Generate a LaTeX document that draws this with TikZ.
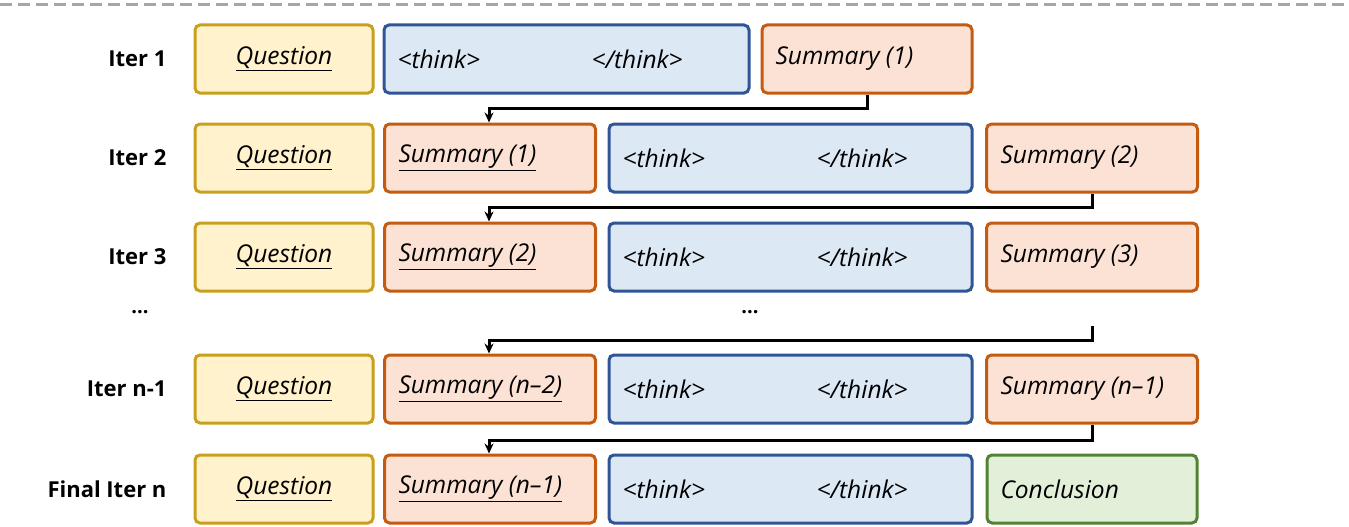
\documentclass[tikz,border=0pt]{standalone}
\usepackage{fontspec}
\setmainfont{Open Sans}
\usetikzlibrary{arrows.meta}
\definecolor{qf}{HTML}{FFF2CC}\definecolor{qd}{HTML}{C9A01E}
\definecolor{bf}{HTML}{DDE8F5}\definecolor{bd}{HTML}{2F5597}
\definecolor{of}{HTML}{FBE2D5}\definecolor{od}{HTML}{C55A11}
\definecolor{gf}{HTML}{E2EFD9}\definecolor{gd}{HTML}{548235}
\tikzset{
 box/.style={rounded corners=5pt,line width=3pt,minimum height=68pt,inner sep=0pt},
 q/.style={box,fill=qf,draw=qd,minimum width=178pt},
 th/.style={box,fill=bf,draw=bd,minimum width=363pt},
 sm/.style={box,fill=of,draw=od,minimum width=211pt},
 cn/.style={box,fill=gf,draw=gd,minimum width=210pt},
 t/.style={font=\fontsize{24.5}{26}\selectfont\itshape,anchor=west},
 lab/.style={font=\fontsize{22}{24}\selectfont\bfseries,anchor=east},
 arr/.style={line width=3pt,-{Stealth[length=10pt,width=9pt]}}
}
\newcommand{\ul}[1]{\underline{#1}}
\begin{document}
\begin{tikzpicture}[x=1pt,y=-1pt]
\useasboundingbox (0,0) rectangle (1349,527);
\draw[gray!70,line width=3pt,dash pattern=on 12pt off 6pt] (0,5)--(1349,5);
% row 1
\node[lab] (l1) at (170,59) {Iter 1};
\node[q] (q1) at (284,59) {};
\node[t,anchor=center] at (q1) {\ul{Question}};
\node[box,fill=bf,draw=bd,minimum width=365pt] (t1) at (566.5,59) {};
\node[t] at (394,59) {<think>};
\node[t] at (588,59) {</think>};
\node[sm,minimum width=210pt] (s1) at (867,59) {};
\node[t] at (772,59) {Summary (1)};
% rows
\foreach \y/\pa in {158/Summary (1), 257/Summary (2), 389/Summary (n–2), 489/Summary (n–1)}{
 \node[q] (q\y) at (284,\y) {};
 \node[t,anchor=center] at (q\y) {\ul{Question}};
 \node[sm] (a\y) at (490,\y) {};
 \node[t] at (395,\y) {\ul{\pa}};
 \node[th] (b\y) at (790.5,\y) {};
 \node[t] at (619,\y) {<think>};
 \node[t] at (813,\y) {</think>};
}
\node[lab] at (170,158) {Iter 2};
\node[lab] at (170,257) {Iter 3};
\node[lab] at (170,389) {Iter n-1};
\node[lab] at (170,489) {Final Iter n};
\node[sm] (c158) at (1092,158) {}; \node[t] at (997,158) {Summary (2)};
\node[sm] (c257) at (1092,257) {}; \node[t] at (997,257) {Summary (3)};
\node[sm] (c389) at (1092,389) {}; \node[t] at (997,389) {Summary (n–1)};
\node[cn] (c489) at (1092,489) {}; \node[t] at (997,489) {Conclusion};
\node[font=\fontsize{20}{22}\selectfont\bfseries] (d1) at (140,312) {...};
\node[font=\fontsize{20}{22}\selectfont\bfseries] (d2) at (750,312) {...};
\coordinate (e3) at (1092,326);
% arrows
\draw[arr] (s1.south) |- (489,108) -- (a158.north-|489,0);
\draw[arr] (c158.south) |- (489,207) -- (a257.north-|489,0);
\draw[arr] (e3) |- (489,340) -- (a389.north-|489,0);
\draw[arr] (c389.south) |- (489,440) -- (a489.north-|489,0);
\end{tikzpicture}
\end{document}
